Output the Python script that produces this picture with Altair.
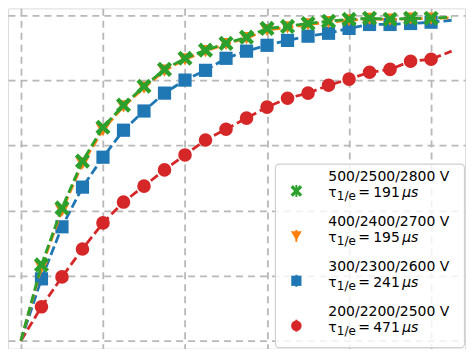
import altair as alt
import pandas as pd

# time in microseconds
times = [50, 100, 150, 200, 250, 300, 350, 400, 450, 500,
         550, 600, 650, 700, 750, 800, 850, 900, 950, 1000]

green_vals = [0.233, 0.408, 0.552, 0.656, 0.724, 0.782, 0.834, 0.868, 0.893, 0.914,
              0.933, 0.960, 0.966, 0.975, 0.982, 0.988, 0.991, 0.988, 0.991, 0.991]
orange_vals = [0.226, 0.400, 0.545, 0.648, 0.720, 0.778, 0.830, 0.865, 0.890, 0.912,
               0.930, 0.955, 0.963, 0.972, 0.979, 0.985, 0.989, 0.987, 0.990, 0.990]
blue_vals = [0.190, 0.350, 0.472, 0.564, 0.647, 0.706, 0.761, 0.801, 0.831, 0.868,
             0.890, 0.908, 0.923, 0.936, 0.945, 0.960, 0.972, 0.972, 0.975, 0.979]
red_vals = [0.104, 0.196, 0.282, 0.362, 0.426, 0.475, 0.525, 0.571, 0.617, 0.650,
            0.684, 0.718, 0.745, 0.761, 0.785, 0.804, 0.825, 0.834, 0.859, 0.865]

fit_start = 0.0
fit_end_time = 1050
fit_end_vals = [0.995, 0.993, 0.985, 0.890]   # green, orange, blue, red

voltages = ["500/2500/2800 V", "400/2400/2700 V", "300/2300/2600 V", "200/2200/2500 V"]
taus = ["191", "195", "241", "471"]
colors = ["#2ca02c", "#ff7f0e", "#1f77b4", "#d62728"]

X_PATH = ("M-1,-0.6L-0.6,-1L0,-0.4L0.6,-1L1,-0.6L0.4,0L1,0.6L0.6,1"
          "L0,0.4L-0.6,1L-1,0.6L-0.4,0Z")
shapes = [X_PATH, "triangle-down", "square", "circle"]
sizes = [230, 200, 175, 185]

series_vals = [green_vals, orange_vals, blue_vals, red_vals]

grid_axis = dict(grid=True, labels=False, ticks=False, domain=False, title=None,
                 gridDash=[7, 5], gridColor="#b8b8b8", gridWidth=1.8)

xs = alt.X("t:Q", scale=alt.Scale(domain=[-31.6, 1082.7], nice=False, zero=False),
           axis=alt.Axis(values=[0, 200, 400, 600, 800, 1000], **grid_axis))
ys = alt.Y("v:Q", scale=alt.Scale(domain=[-0.0245, 1.0215], nice=False, zero=False),
           axis=alt.Axis(values=[0, 0.2, 0.4, 0.6, 0.8, 1.0], **grid_axis))

layers = []
# draw red first, green last (green on top)
for i in [3, 2, 1, 0]:
    vals = series_vals[i]
    fit_df = pd.DataFrame({"t": [0] + times + [fit_end_time],
                           "v": [fit_start] + vals + [fit_end_vals[i]]})
    pts_df = pd.DataFrame({"t": times, "v": vals})
    layers.append(
        alt.Chart(fit_df).mark_line(strokeDash=[9, 4], strokeWidth=2.8, color=colors[i])
        .encode(x=xs, y=ys)
    )
    layers.append(
        alt.Chart(pts_df).mark_point(filled=True, shape=shapes[i], size=sizes[i],
                                     color=colors[i], opacity=1)
        .encode(x=xs, y=ys)
    )

one = pd.DataFrame({"a": [0]})

# legend box
layers.append(
    alt.Chart(one).mark_rect(fill="white", fillOpacity=0.82, stroke="#d0d0d0",
                             strokeWidth=1.2, cornerRadius=4)
    .encode(x=alt.value(268), x2=alt.value(457.5), y=alt.value(156), y2=alt.value(340))
)

FONT = "DejaVu Sans"
for i in range(4):
    dy = 45 * i
    # symbol
    layers.append(
        alt.Chart(one).mark_point(filled=True, shape=shapes[i], size=sizes[i] * 0.6,
                                  color=colors[i], opacity=1)
        .encode(x=alt.value(289), y=alt.value(183 + dy))
    )
    layers.append(
        alt.Chart(one).mark_rule(color=colors[i], strokeWidth=2)
        .encode(x=alt.value(289), y=alt.value(177 + dy), y2=alt.value(189 + dy))
    )
    # line 1
    layers.append(
        alt.Chart(one).mark_text(text=voltages[i], font=FONT, fontSize=14, align="left",
                                 baseline="alphabetic", color="black")
        .encode(x=alt.value(321), y=alt.value(173 + dy))
    )
    # line 2 pieces
    layers.append(
        alt.Chart(one).mark_text(text="τ", font=FONT, fontSize=14, align="left",
                                 baseline="alphabetic", color="black")
        .encode(x=alt.value(321), y=alt.value(189 + dy))
    )
    layers.append(
        alt.Chart(one).mark_text(text="1/e", font=FONT, fontSize=12, align="left",
                                 baseline="alphabetic", color="black")
        .encode(x=alt.value(329.5), y=alt.value(192 + dy))
    )
    layers.append(
        alt.Chart(one).mark_text(text="=", font=FONT, fontSize=14, align="left",
                                 baseline="alphabetic", color="black")
        .encode(x=alt.value(351), y=alt.value(189 + dy))
    )
    layers.append(
        alt.Chart(one).mark_text(text=taus[i], font=FONT, fontSize=14, align="left",
                                 baseline="alphabetic", color="black")
        .encode(x=alt.value(366), y=alt.value(189 + dy))
    )
    layers.append(
        alt.Chart(one).mark_text(text="μs", font=FONT, fontSize=14, fontStyle="italic",
                                 align="left", baseline="alphabetic", color="black")
        .encode(x=alt.value(395), y=alt.value(189 + dy))
    )

chart = alt.layer(*layers).properties(
    width=458, height=341, padding=0
).configure_view(stroke=None).configure(background="white")

chart.save("out.html", embed_options={"renderer": "svg", "actions": False})
